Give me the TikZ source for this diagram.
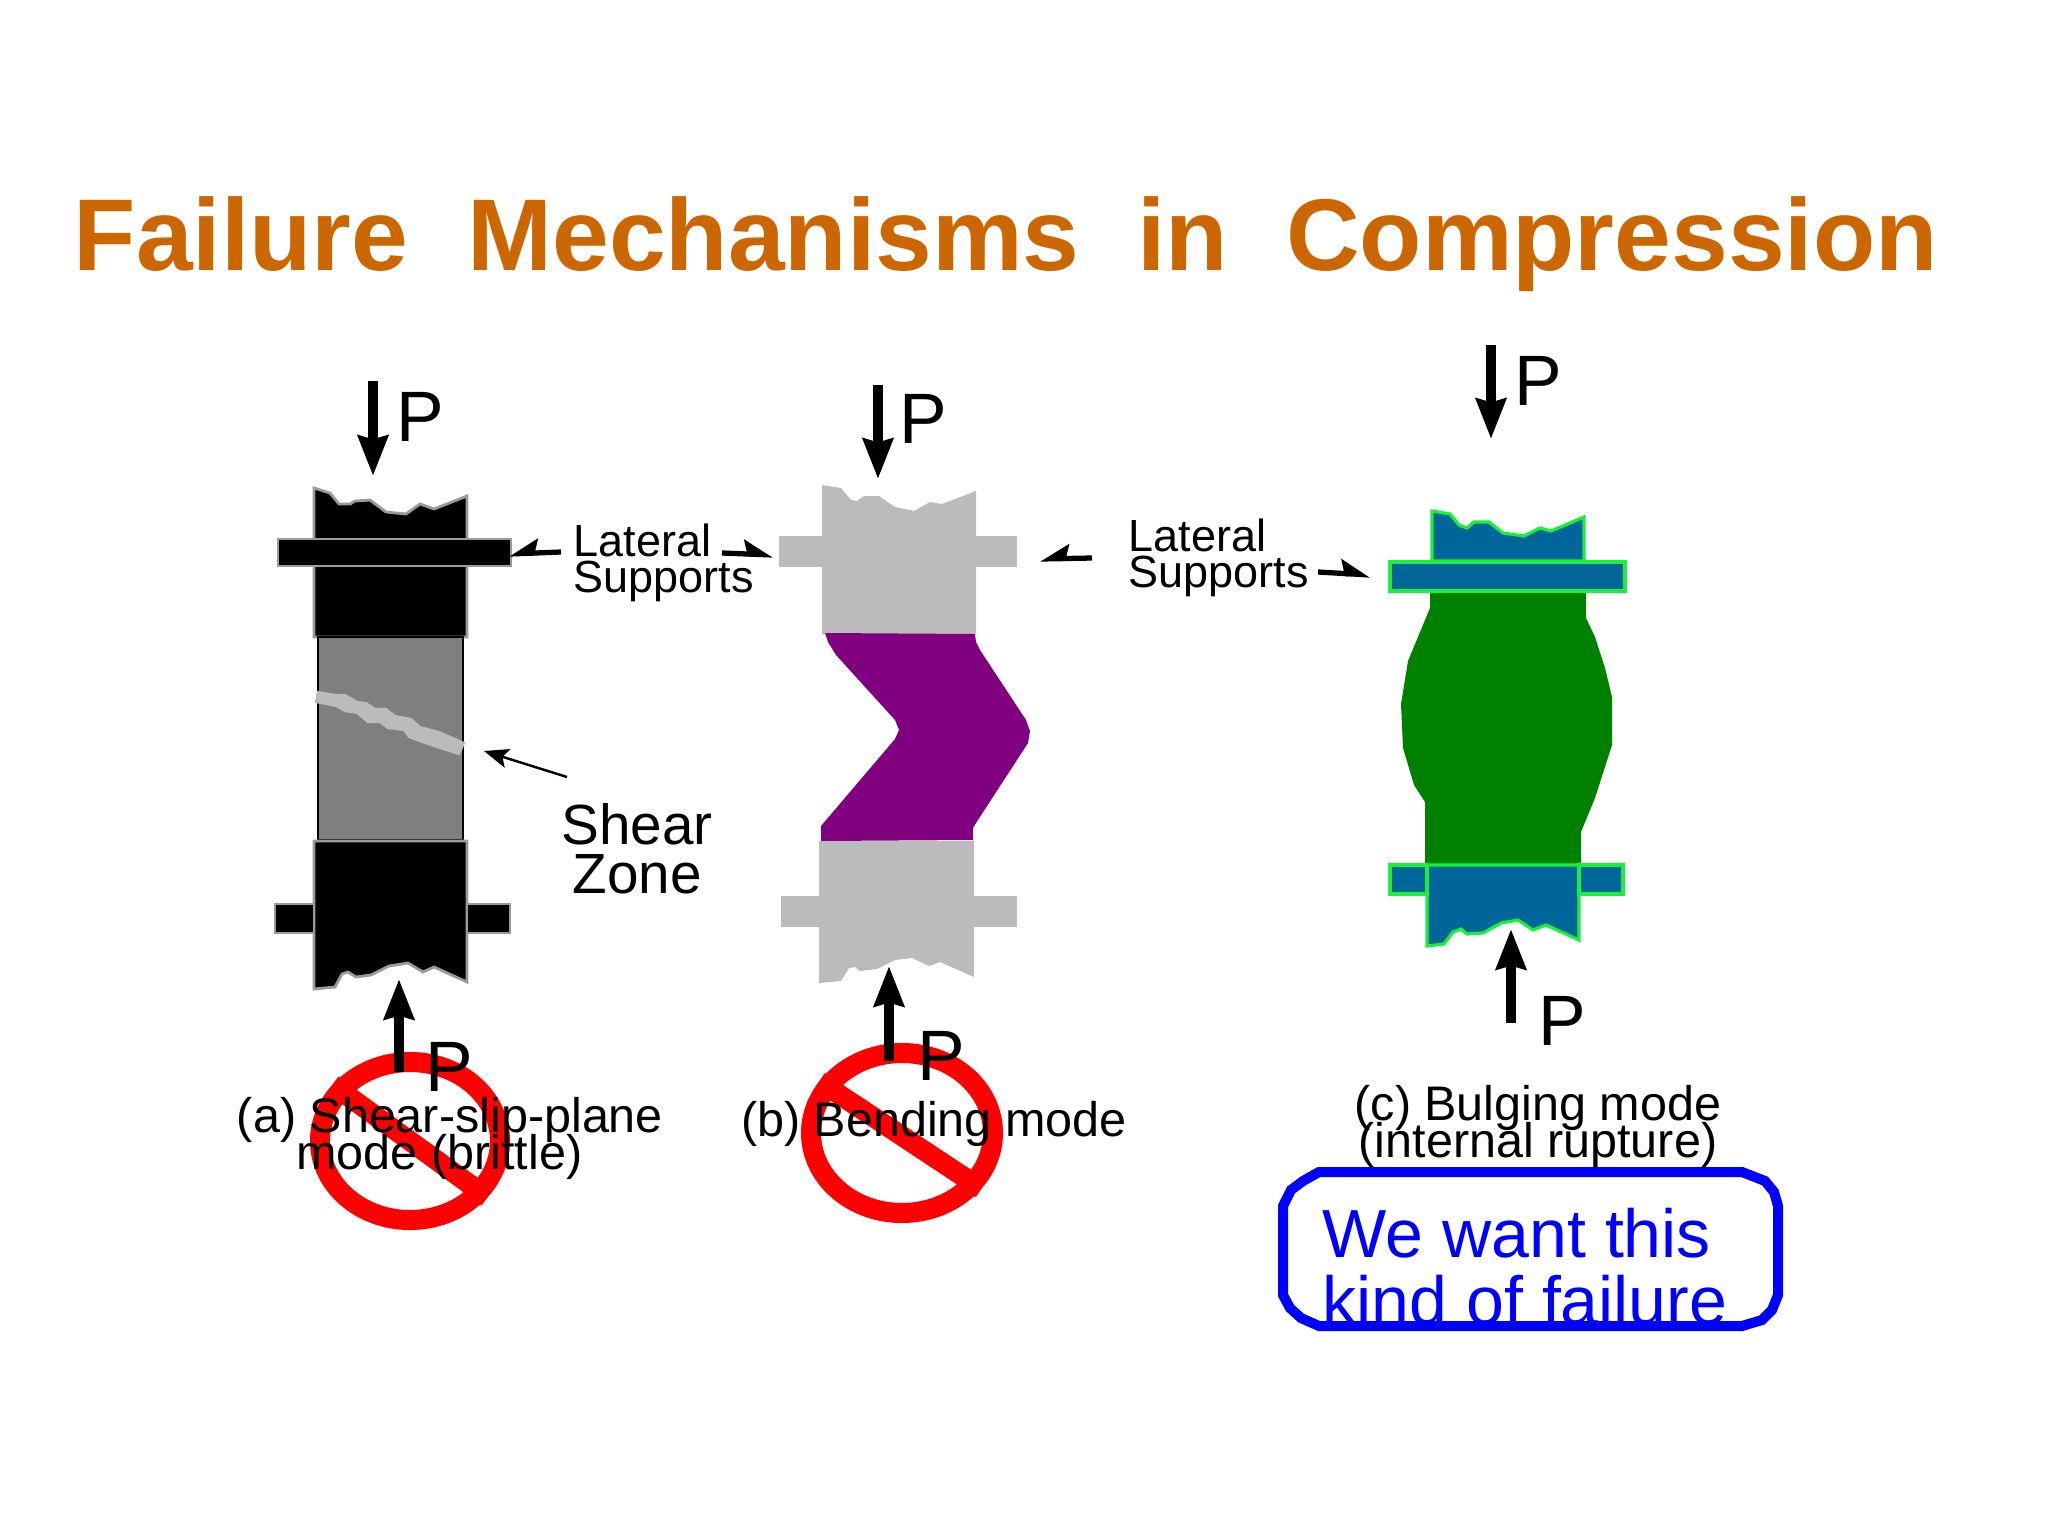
\documentclass[tikz,border=0pt]{standalone}
\usepackage{fontspec}
\setmainfont{Liberation Sans}
\usepackage{tikz}
\usetikzlibrary{arrows.meta,shapes.geometric,positioning}
\definecolor{titleorange}{HTML}{CC6600}
\definecolor{midgray}{HTML}{807F80}
\definecolor{lightgray}{HTML}{BBBABC}
\definecolor{edgegray}{HTML}{9A9A9A}
\definecolor{bulgegreen}{HTML}{008000}
\definecolor{brightgreen}{HTML}{19F03C}
\definecolor{tealblue}{HTML}{006699}
\definecolor{bendpurple}{HTML}{800080}
\newcommand{\tightlines}{\setlength{\lineskiplimit}{-100pt}}
\tikzset{
  blackpart/.style={fill=black,draw=edgegray,line width=0.8pt},
  graypart/.style={fill=lightgray},
  tealpart/.style={fill=tealblue,draw=brightgreen,line width=0.9pt},
  loadarrow/.style={line width=3.1pt,-{Stealth[length=11.4pt,width=8.4pt,inset=1pt]}},
  sidearrow/.style={line width=1.5pt,-{Stealth[harpoon,length=7pt,width=8pt,inset=1pt]}},
  sidearrowback/.style={line width=1.5pt,-{Stealth[harpoon,swap,length=7pt,width=8pt,inset=1pt]}},
  loadlabel/.style={anchor=base west,inner sep=0pt,font=\fontsize{20.3}{20.3}\selectfont},
  smalllabel/.style={anchor=base west,inner sep=0pt,align=left,font=\fontsize{12.8}{10}\selectfont\tightlines},
  caption/.style={anchor=base,inner sep=0pt,align=center,font=\fontsize{13.8}{10.5}\selectfont\tightlines},
  banring/.style={ellipse,draw=red,line width=5.7pt,inner sep=0pt}
}
\begin{document}
\begin{tikzpicture}[x=0.01cm,y=-0.01cm]
\useasboundingbox (0,0) rectangle (2048,1536);
\node (title) [anchor=base west,inner sep=0pt,text=titleorange,font=\fontsize{29}{29}\selectfont\bfseries] at (73,270) {Failure\ \ \kern0.74pt Mechanisms\ \ \kern0.37pt in\ \ \kern0.37pt Compression};

\node (bana) [banring,minimum width=180*0.01cm,minimum height=158*0.01cm] at (410,1141) {};
\node (banb) [banring,minimum width=182*0.01cm,minimum height=160*0.01cm] at (902,1133) {};
\draw [red,line width=5.7pt] (bana.144) -- (bana.-36);
\draw [red,line width=5.7pt] (banb.148) -- (banb.-35);

\draw [blackpart] (314,488) -- (330,493) -- (339,504) -- (350,504) -- (355,501) -- (370,500) -- (386,512) -- (406,514) -- (420,504) -- (434,509) -- (467,496) -- (467,637) -- (314,637) -- cycle;
\draw [blackpart] (278,539) rectangle (511,566);
\draw [fill=midgray,draw=black,line width=0.6pt] (318,637) rectangle (463,840);
\draw [fill=lightgray,draw=lightgray,line width=0.6pt] (318,692) -- (336,695) -- (345,695) -- (357,702) -- (366,703) -- (375,709) -- (386,709) -- (395,716) -- (411,719) -- (420,727) -- (439,732) -- (464,743) -- (459,754) -- (443,749) -- (425,743) -- (409,737) -- (404,730) -- (388,728) -- (380,722) -- (368,722) -- (357,713) -- (345,711) -- (336,706) -- (316,702) -- cycle;
\draw [blackpart] (314,989) -- (335,987) -- (342,974) -- (348,972) -- (356,977) -- (371,975) -- (389,966) -- (408,963) -- (423,972) -- (434,967) -- (467,982) -- (467,841) -- (314,841) -- cycle;
\draw [blackpart] (275,904) rectangle (314,933);
\draw [blackpart] (467,904) rectangle (510,933);

\fill [graypart] (822,485) -- (841,488) -- (851,500) -- (857,501) -- (864,496) -- (879,496) -- (895,507) -- (914,511) -- (930,502) -- (942,504) -- (976,491) -- (976,634) -- (822,634) -- cycle;
\fill [graypart] (779,536) rectangle (1017,567);
\fill [bendpurple] (825,633) -- (975,634) -- (976,642) -- (980,650) -- (1026,720) -- (1030,731) -- (1028,743) -- (976,823) -- (973,828) -- (973,840) -- (821,841) -- (821,826) -- (895,739) -- (899,730) -- (895,720) -- (836,655) -- (828,642) -- cycle;
\fill [graypart] (819,983) -- (841,981) -- (849,968) -- (855,967) -- (860,971) -- (877,969) -- (895,960) -- (912,958) -- (929,966) -- (940,962) -- (974,977) -- (974,841) -- (819,841) -- cycle;
\fill [graypart] (781,896) rectangle (1017,927);

\fill [bulgegreen] (1430,591) -- (1586,591) -- (1586,618) -- (1595,637) -- (1605,668) -- (1612,697) -- (1612,745) -- (1595,798) -- (1581,832) -- (1581,865) -- (1425,865) -- (1425,802) -- (1414,785) -- (1403,748) -- (1401,704) -- (1408,661) -- (1430,608) -- cycle;
\draw [tealpart] (1432,511) -- (1450,514) -- (1459,525) -- (1467,528) -- (1474,522) -- (1489,522) -- (1503,533) -- (1524,536) -- (1540,528) -- (1551,531) -- (1584,517) -- (1584,561) -- (1432,561) -- cycle;
\draw [tealpart] (1390,562) rectangle (1625,591);
\draw [tealpart] (1427,946) -- (1444,944) -- (1453,932) -- (1461,929) -- (1467,934) -- (1483,933) -- (1501,923) -- (1518,920) -- (1533,930) -- (1546,925) -- (1579,940) -- (1579,865) -- (1427,865) -- cycle;
\draw [tealpart] (1390,865) rectangle (1427,894);
\draw [tealpart] (1579,865) rectangle (1623,894);

\coordinate (atopstart) at (373,381);
\coordinate (atoptip) at (373,476);
\coordinate (abotstart) at (399,1072);
\coordinate (abottip) at (399,979);
\coordinate (btopstart) at (878,385);
\coordinate (btoptip) at (878,479);
\coordinate (bbotstart) at (889,1061);
\coordinate (bbottip) at (889,966);
\coordinate (ctopstart) at (1491,345);
\coordinate (ctoptip) at (1491,439);
\coordinate (cbotstart) at (1511,1023);
\coordinate (cbottip) at (1511,929);
\foreach \arm in {atop,abot,btop,bbot,ctop,cbot}
  \draw [loadarrow] (\arm start) -- (\arm tip);

\node (patop) [loadlabel] at (396,441) {P};
\node (pabot) [loadlabel] at (425,1091) {P};
\node (pbtop) [loadlabel] at (899,443) {P};
\node (pbbot) [loadlabel] at (917,1080) {P};
\node (pctop) [loadlabel] at (1514,405) {P};
\node (pcbot) [loadlabel] at (1538,1045) {P};

\node (lata) [smalllabel] at (573,592) {Lateral\\Supports};
\node (latb) [smalllabel] at (1128,587) {Lateral\\Supports};
\coordinate (latatip) at (509,554);
\coordinate (latbtip) at (773,555);
\coordinate (latctip) at (1040,559);
\coordinate (latdtip) at (1370,575);
\draw [sidearrowback] (561,552) -- (latatip);
\draw [sidearrow] (722,553) -- (latbtip);
\draw [sidearrowback] (1092,558) -- (latctip);
\draw [sidearrow] (1318,572) -- (latdtip);

\node (shear) [anchor=base,inner sep=0pt,align=center,font=\fontsize{16.1}{13.7}\selectfont\tightlines] at (637,893) {Shear\\Zone};
\coordinate (crackend) at (484,751);
\draw [line width=0.7pt,-{Stealth[length=7pt,width=5.5pt,inset=1.5pt]}] (567,777) -- (crackend);

\node (capa) [caption] at (450,1169) {(a) Shear-slip-plane\\mode (brittle)\rule{6pt}{0pt}};
\node (capb) [caption] at (934,1136) {(b) Bending mode};
\node (capc) [caption] at (1538,1157) {(c) Bulging mode\\(internal rupture)};

\draw [blue,line width=2.85pt] (1283,1206) -- (1291,1190) -- (1303,1181) -- (1319,1172) -- (1742,1172) -- (1765,1181) -- (1774,1192) -- (1778,1206) -- (1778,1295) -- (1772,1310) -- (1762,1320) -- (1742,1326) -- (1319,1326) -- (1301,1318) -- (1290,1308) -- (1283,1295) -- cycle;
\node (want) [anchor=base west,inner sep=0pt,align=left,text=blue,font=\fontsize{19.35}{18.8}\selectfont\tightlines] at (1322,1324) {We want this\\kind of failure};
\end{tikzpicture}
\end{document}
